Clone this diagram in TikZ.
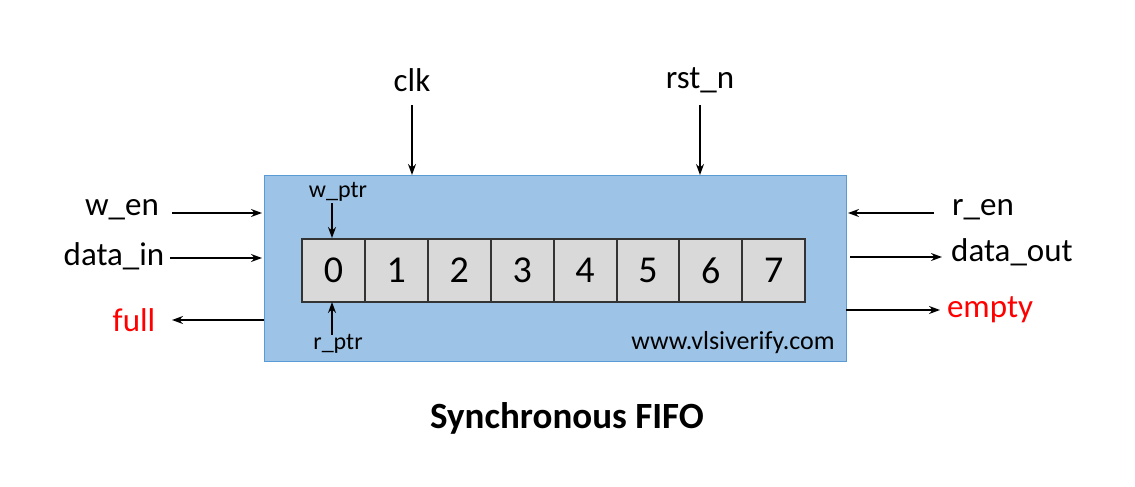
\documentclass[tikz,border=0pt]{standalone}
\usepackage{fontspec}
\setmainfont{Carlito}
\usetikzlibrary{arrows.meta}
\definecolor{boxfill}{HTML}{9DC3E6}
\definecolor{boxline}{HTML}{5B9BD5}
\definecolor{cellfill}{HTML}{D9D9D9}
\begin{document}
\begin{tikzpicture}[x=1pt,y=-1pt,
  lbl/.style={font=\fontsize{33}{38}\selectfont,inner sep=0},
  arr/.style={-{Stealth[length=11pt,width=8pt]},line width=1.4pt},
  cell/.style={draw=black!80,line width=2pt,fill=cellfill,minimum width=62.9pt,minimum height=63pt,inner sep=0,font=\fontsize{38}{42}\selectfont,anchor=north west}]
\useasboundingbox[fill=white] (0,0) rectangle (1135,487);
\node[draw=boxline,fill=boxfill,line width=1pt,minimum width=582pt,minimum height=186pt,anchor=north west,inner sep=0] (fifo) at (264,175) {};
\foreach \i in {0,...,7}{
  \node[cell] (c\i) at ({301+\i*62.9},238) {\i};
}
\node[lbl] (clk) at (412,80) {clk};
\node[lbl] (rst) at (700,80) {rst\_n};
\coordinate (clkt) at (412,105); \coordinate (clkb) at (412,175);
\coordinate (rstt) at (700,105); \coordinate (rstb) at (700,175);
\draw[arr] (clkt) -- (clkb);
\draw[arr] (rstt) -- (rstb);
\node[lbl] (wen) at (122,210) {w\_en};
\node[lbl] (din) at (114,256) {data\_in};
\node[lbl,text=red] (full) at (134,320) {full};
\node[lbl] (ren) at (983,210) {r\_en};
\node[lbl] (dout) at (1012,252) {data\_out};
\node[lbl,text=red] (empty) at (990,310) {empty};
\coordinate (a1) at (172,213); \coordinate (a2) at (262,213);
\coordinate (b1) at (170,258); \coordinate (b2) at (262,258);
\coordinate (f1) at (264,320); \coordinate (f2) at (172,320);
\coordinate (r1) at (934,213); \coordinate (r2) at (848,213);
\coordinate (d1) at (850,257); \coordinate (d2) at (942,257);
\coordinate (e1) at (846,310); \coordinate (e2) at (940,310);
\draw[arr] (a1) -- (a2);
\draw[arr] (b1) -- (b2);
\draw[arr] (f1) -- (f2);
\draw[arr] (r1) -- (r2);
\draw[arr] (d1) -- (d2);
\draw[arr] (e1) -- (e2);
\node[font=\fontsize{24}{28}\selectfont,inner sep=0] (wptr) at (338,192) {w\_ptr};
\node[font=\fontsize{24}{28}\selectfont,inner sep=0] (rptr) at (338,344) {r\_ptr};
\coordinate (wp1) at (332,203); \coordinate (wp2) at (332,238);
\coordinate (rp1) at (332,335); \coordinate (rp2) at (332,302);
\draw[arr] (wp1) -- (wp2);
\draw[arr] (rp1) -- (rp2);
\node[font=\fontsize{26}{30}\selectfont,inner sep=0] (www) at (733,343) {www.vlsiverify.com};
\node[font=\bfseries\fontsize{37}{42}\selectfont,inner sep=0] (title) at (567,418) {Synchronous FIFO};
\end{tikzpicture}
\end{document}
